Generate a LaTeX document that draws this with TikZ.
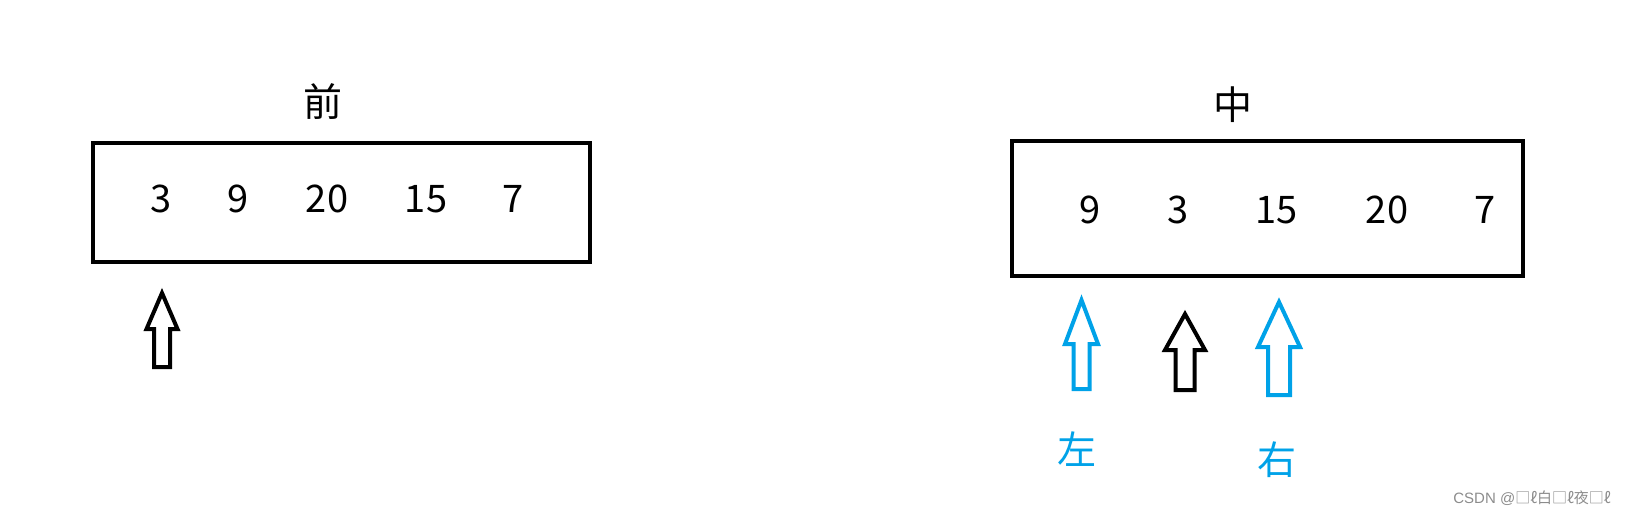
\documentclass[tikz,border=0pt]{standalone}
\usepackage{fontspec}
\setmainfont{Noto Sans CJK SC}
\newfontfamily\wmlatin{Liberation Sans}
\definecolor{pblue}{HTML}{00A2E8}
\tikzset{
  box/.style={draw=black, line width=4pt},
  num/.style={inner sep=0pt, font=\fontsize{38}{40}\selectfont},
  cjk/.style={inner sep=0pt, font=\fontsize{39}{42}\selectfont},
  fatarrow/.style={line width=4pt, fill=white},
}
% tip x, tip y, head half-width, head base y, shaft half-width, bottom y
\newcommand{\hollowarrow}[7]{%
  \draw[fatarrow,#1] (#2,#3) -- (#2+#4,#5) -- (#2+#6,#5) -- (#2+#6,#7)
    -- (#2-#6,#7) -- (#2-#6,#5) -- (#2-#4,#5) -- cycle;}
\begin{document}
\begin{tikzpicture}[x=1pt,y=-1pt]
\useasboundingbox (0,0) rectangle (1625,517);
% left box
\draw[box] (93,143) rectangle (590,262);
\node[cjk] (tqian) at (323,102) {前};
\node[num] (a1) at (161,199) {3};
\node[num] (a2) at (238,199) {9};
\node[num] (a3) at (327,199) {20};
\node[num] (a4) at (426,199) {15};
\node[num] (a5) at (513,199) {7};
% right box
\draw[box] (1011.5,140.5) rectangle (1522.5,275.5);
\node[cjk] (tzhong) at (1233,105) {中};
\node[num] (b1) at (1090,210) {9};
\node[num] (b2) at (1178,210) {3};
\node[num] (b3) at (1276.5,210) {15};
\node[num] (b4) at (1387,210) {20};
\node[num] (b5) at (1485,210) {7};
% arrows
\hollowarrow{draw=black}{162}{293}{15.5}{329}{8}{367}
\hollowarrow{draw=pblue}{1081.5}{300}{16.5}{344}{8}{389}
\hollowarrow{draw=black}{1185}{314}{20}{350}{9.5}{390}
\hollowarrow{draw=pblue}{1279}{302}{21}{347}{11}{395}
% labels
\node[cjk, text=pblue] (lzuo) at (1077,449) {左};
\node[cjk, text=pblue] (lyou) at (1277,460) {右};
% watermark
\node[inner sep=0pt, text=black!45, font=\fontsize{15}{17}\selectfont, anchor=east] (wm) at (1611,498) {{\wmlatin CSDN @}□ℓ白□ℓ夜□ℓ};
\end{tikzpicture}
\end{document}
